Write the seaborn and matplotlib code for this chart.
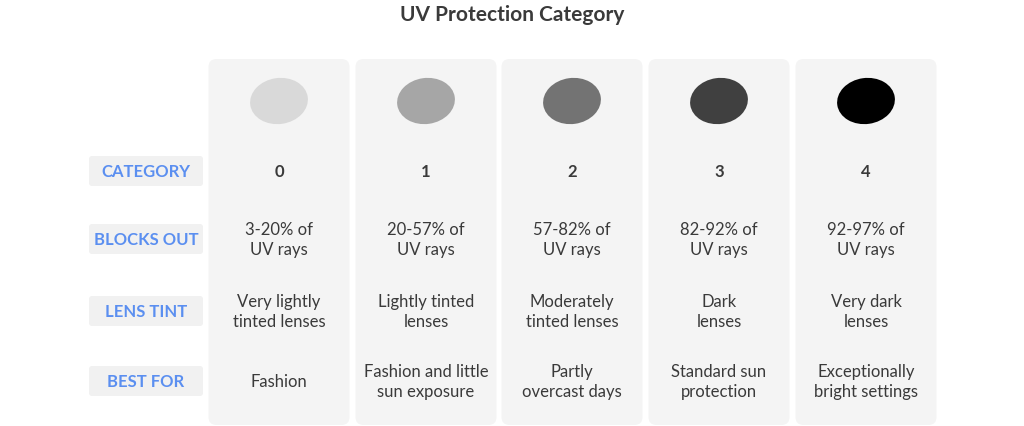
import matplotlib
matplotlib.use('Agg')
import matplotlib.pyplot as plt
import seaborn as sns
from matplotlib.patches import FancyBboxPatch, Ellipse

sns.set_theme(style='white')
plt.rcParams['font.family'] = ['Lato', 'DejaVu Sans']

# data
row_labels = ['CATEGORY', 'BLOCKS OUT', 'LENS TINT', 'BEST FOR']
categories = ['0', '1', '2', '3', '4']
blocks_out = ['3-20% of\nUV rays', '20-57% of\nUV rays', '57-82% of\nUV rays',
              '82-92% of\nUV rays', '92-97% of\nUV rays']
lens_tint = ['Very lightly\ntinted lenses', 'Lightly tinted\nlenses', 'Moderately\ntinted lenses',
             'Dark\nlenses', 'Very dark\nlenses']
best_for = ['Fashion', 'Fashion and little\nsun exposure', 'Partly\novercast days',
            'Standard sun\nprotection', 'Exceptionally\nbright settings']
tint_colors = ['#d9d9d9', '#a6a6a6', '#737373', '#404040', '#000000']

fig = plt.figure(figsize=(10.24, 4.27), dpi=100)
ax = fig.add_axes([0, 0, 1, 1])
ax.set_xlim(0, 1024)
ax.set_ylim(427, 0)
ax.axis('off')

ax.text(512, 15, 'UV Protection Category', ha='center', va='center',
        fontsize=15, fontweight='bold', color='#3a3a3a')

col_x = [279, 426, 572, 719, 866]
col_w = 141
row_y = [172, 240, 312, 382]
text_c = '#3a3a3a'

for i, cx in enumerate(col_x):
    ax.add_patch(FancyBboxPatch((cx - col_w / 2 + 4, 64), col_w - 8, 358,
                                boxstyle='round,pad=4,rounding_size=8',
                                fc='#f4f4f4', ec='none'))
    ax.add_patch(Ellipse((cx, 102), 58, 46, angle=-8, fc=tint_colors[i], ec='none'))
    ax.text(cx, row_y[0], categories[i], ha='center', va='center',
            fontsize=12, fontweight='bold', color=text_c)
    for j, vals in enumerate([blocks_out, lens_tint, best_for]):
        ax.text(cx, row_y[j + 1], vals[i], ha='center', va='center',
                fontsize=12, color=text_c, linespacing=1.25)

for lab, y in zip(row_labels, row_y):
    ax.add_patch(FancyBboxPatch((90, y - 14), 112, 28,
                                boxstyle='round,pad=1,rounding_size=3',
                                fc='#f1f1f1', ec='none'))
    ax.text(146, y, lab, ha='center', va='center', fontsize=12,
            fontweight='bold', color='#5b8ff0')

fig.savefig('out.png', dpi=100)
